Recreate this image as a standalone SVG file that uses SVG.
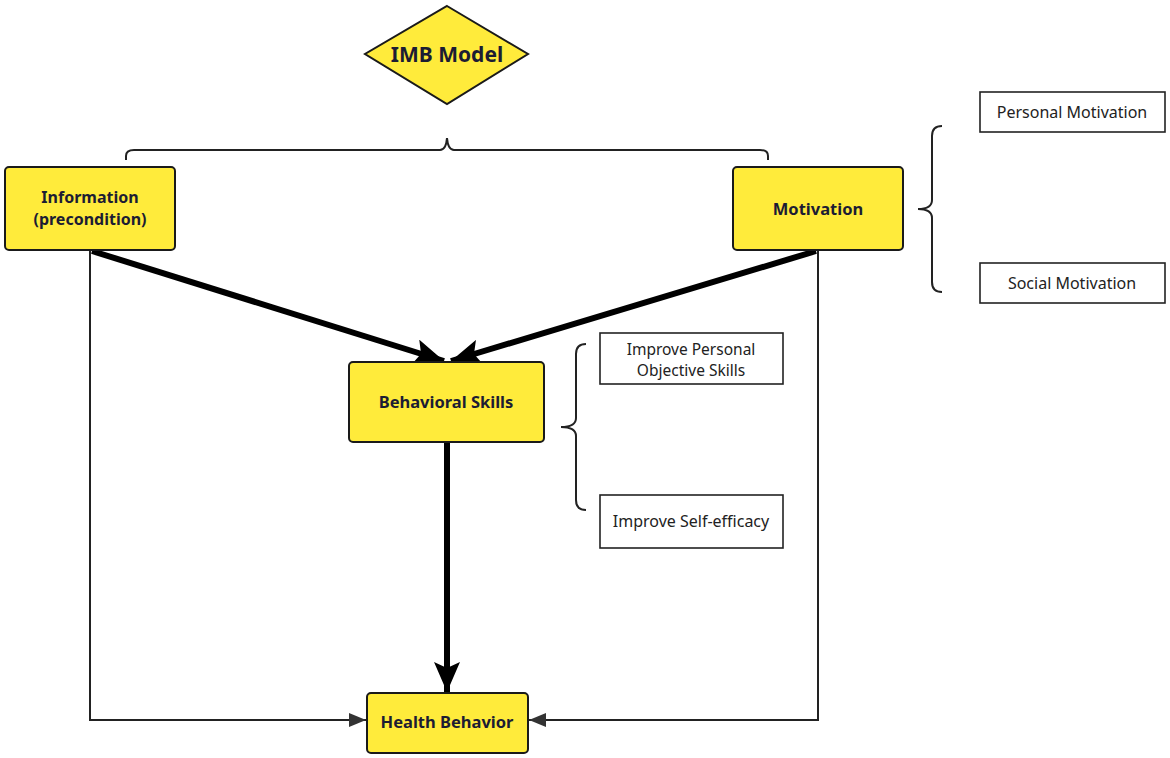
<svg xmlns="http://www.w3.org/2000/svg" width="1170" height="758" viewBox="0 0 1170 758">
<defs>
<style>
.node{fill:#FFEB3B;stroke:#1a1a1a;stroke-width:2}
.lbl{font-family:"Noto Sans","Open Sans",sans-serif;font-weight:bold;font-size:16.5px;fill:#1c1c33;text-anchor:middle}
.sm{fill:#fff;stroke:#222;stroke-width:1.6}
.smt{font-family:"Noto Sans","Open Sans",sans-serif;font-size:16px;fill:#222;text-anchor:middle}
.brace{fill:none;stroke:#222;stroke-width:2}
.thick{fill:none;stroke:#000;stroke-width:6}
.thin{fill:none;stroke:#222;stroke-width:2}
</style>
<marker id="big" markerUnits="userSpaceOnUse" markerWidth="32" markerHeight="26" refX="30" refY="13" orient="auto"><path d="M0,0 L30,13 L0,26 L6,13 Z" fill="#000"/></marker>
<marker id="sma" markerUnits="userSpaceOnUse" markerWidth="18" markerHeight="14" refX="17" refY="7" orient="auto"><path d="M0,0 L17,7 L0,14 Z" fill="#333"/></marker>
</defs>
<rect width="1170" height="758" fill="#fff"/>
<g id="connectors">
<line class="thick" x1="92" y1="251" x2="444" y2="361" marker-end="url(#big)"/>
<line class="thick" x1="816" y1="251" x2="451" y2="361" marker-end="url(#big)"/>
<line class="thick" x1="447" y1="442" x2="447" y2="692" marker-end="url(#big)"/>
<path class="thin" d="M90,250 V720 H366" marker-end="url(#sma)"/>
<path class="thin" d="M818,250 V720 H529" marker-end="url(#sma)"/>
</g>
<g id="braces">
<path class="brace" d="M126,160 V156 Q126,150 134,150 H440 Q446,150 447,138 Q448,150 454,150 H760 Q768,150 768,156 V160"/>
<path class="brace" d="M942,126 Q932,126 932,136 V200 Q932,209 918,209 Q932,209 932,218 V282 Q932,292 942,292"/>
<path class="brace" d="M586,344 Q576,344 576,354 V418 Q576,427 561,427 Q576,427 576,436 V500 Q576,510 586,510"/>
</g>
<g id="imb-model">
<polygon points="447,6 528,54 447,104 365,54" class="node"/>
<text x="447" y="62" class="lbl" style="font-size:21px">IMB Model</text>
</g>
<g id="information">
<rect x="5" y="167" width="170" height="83" rx="4" class="node"/>
<text x="90" y="203" class="lbl" style="font-size:16px">Information</text>
<text x="90" y="225" class="lbl" style="font-size:16px">(precondition)</text>
</g>
<g id="motivation">
<rect x="733" y="167" width="170" height="83" rx="4" class="node"/>
<text x="818" y="215" class="lbl">Motivation</text>
</g>
<g id="behavioral-skills">
<rect x="349" y="362" width="195" height="80" rx="4" class="node"/>
<text x="446" y="408" class="lbl">Behavioral Skills</text>
</g>
<g id="health-behavior">
<rect x="367" y="693" width="161" height="60" rx="4" class="node"/>
<text x="447" y="728" class="lbl">Health Behavior</text>
</g>
<g id="personal-motivation">
<rect x="980" y="92" width="185" height="40" class="sm"/>
<text x="1072" y="118" class="smt">Personal Motivation</text>
</g>
<g id="social-motivation">
<rect x="980" y="263" width="185" height="40" class="sm"/>
<text x="1072" y="289" class="smt">Social Motivation</text>
</g>
<g id="improve-personal">
<rect x="600" y="333" width="183" height="51" class="sm"/>
<text x="691" y="355" class="smt" style="font-size:15.5px">Improve Personal</text>
<text x="691" y="376" class="smt" style="font-size:15.5px">Objective Skills</text>
</g>
<g id="improve-self-efficacy">
<rect x="600" y="495" width="183" height="53" class="sm"/>
<text x="691" y="527" class="smt">Improve Self-efficacy</text>
</g>
</svg>
